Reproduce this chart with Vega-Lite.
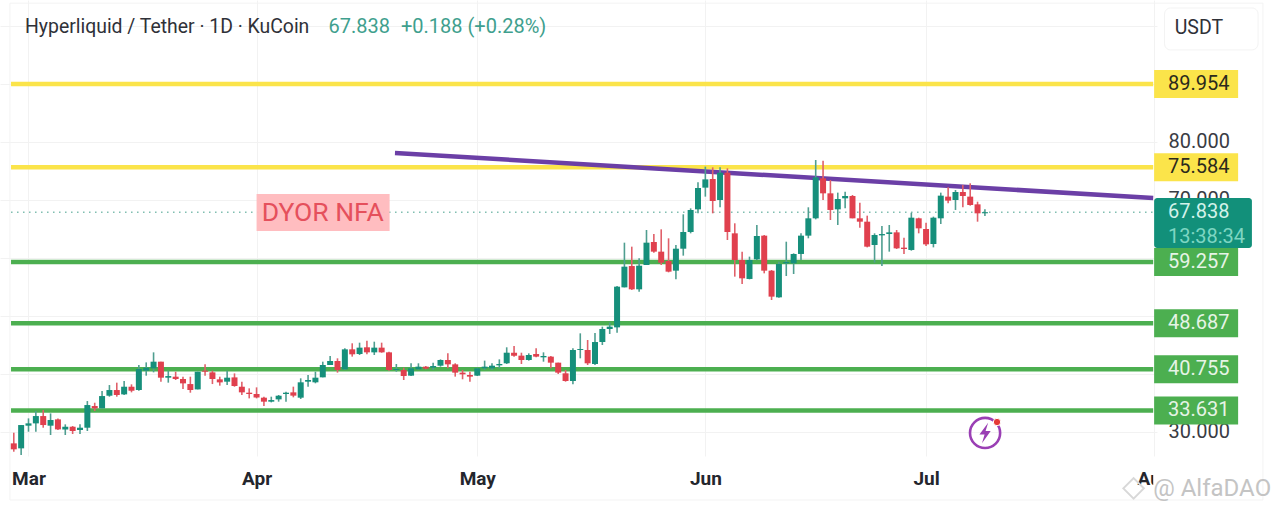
{
  "$schema": "https://vega.github.io/schema/vega-lite/v6.json",
  "width": 1157,
  "height": 456,
  "autosize": "none",
  "padding": {"left": 0, "top": 0, "right": 123, "bottom": 58},
  "background": "white",
  "data": {"values": [{"note": "annotation"}]},
  "datasets": {
    "levels": [
      {"price": 89.954, "kind": "resistance"},
      {"price": 75.584, "kind": "resistance"},
      {"price": 59.257, "kind": "support"},
      {"price": 48.687, "kind": "support"},
      {"price": 40.755, "kind": "support"},
      {"price": 33.631, "kind": "support"}
    ],
    "last": [{"price": 67.838, "countdown": "13:38:34"}],
    "trend": [
      {"date": "2025-04-19T19:30:00Z", "price": 78.05},
      {"date": "2025-07-31T21:00:00Z", "price": 70.28}
    ],
    "candles": [
      {"date":"2025-02-27","o":27.96,"h":29.80,"l":26.52,"c":26.93},
      {"date":"2025-02-28","o":27.10,"h":31.12,"l":25.95,"c":31.12},
      {"date":"2025-03-01","o":31.01,"h":32.27,"l":29.97,"c":31.41},
      {"date":"2025-03-02","o":31.41,"h":33.54,"l":29.97,"c":32.67},
      {"date":"2025-03-03","o":32.67,"h":33.71,"l":30.66,"c":31.12},
      {"date":"2025-03-04","o":31.01,"h":33.13,"l":29.40,"c":31.99},
      {"date":"2025-03-05","o":32.10,"h":32.27,"l":30.26,"c":30.37},
      {"date":"2025-03-06","o":30.37,"h":31.24,"l":29.40,"c":30.83},
      {"date":"2025-03-07","o":30.83,"h":30.95,"l":29.57,"c":30.09},
      {"date":"2025-03-08","o":30.26,"h":31.24,"l":29.57,"c":30.66},
      {"date":"2025-03-09","o":30.66,"h":35.26,"l":30.09,"c":34.57},
      {"date":"2025-03-10","o":34.40,"h":34.97,"l":33.54,"c":34.00},
      {"date":"2025-03-11","o":34.00,"h":36.99,"l":34.00,"c":36.12},
      {"date":"2025-03-12","o":36.18,"h":38.02,"l":36.01,"c":37.16},
      {"date":"2025-03-13","o":37.16,"h":38.43,"l":36.01,"c":36.30},
      {"date":"2025-03-14","o":36.41,"h":38.71,"l":36.30,"c":37.73},
      {"date":"2025-03-15","o":37.73,"h":38.14,"l":36.76,"c":37.04},
      {"date":"2025-03-16","o":37.16,"h":41.47,"l":37.04,"c":40.78},
      {"date":"2025-03-17","o":40.50,"h":41.93,"l":39.63,"c":41.01},
      {"date":"2025-03-18","o":40.90,"h":43.66,"l":40.21,"c":42.05},
      {"date":"2025-03-19","o":42.05,"h":42.05,"l":38.60,"c":39.29},
      {"date":"2025-03-20","o":39.29,"h":40.50,"l":38.43,"c":39.57},
      {"date":"2025-03-21","o":39.46,"h":40.32,"l":38.89,"c":39.06},
      {"date":"2025-03-22","o":39.06,"h":39.46,"l":37.33,"c":38.31},
      {"date":"2025-03-23","o":38.19,"h":39.46,"l":36.70,"c":37.16},
      {"date":"2025-03-24","o":37.27,"h":40.32,"l":37.27,"c":40.32},
      {"date":"2025-03-25","o":40.50,"h":41.59,"l":39.63,"c":40.32},
      {"date":"2025-03-26","o":40.21,"h":40.50,"l":38.19,"c":39.06},
      {"date":"2025-03-27","o":39.00,"h":39.46,"l":37.91,"c":38.48},
      {"date":"2025-03-28","o":38.60,"h":40.50,"l":38.02,"c":39.29},
      {"date":"2025-03-29","o":39.34,"h":40.03,"l":37.73,"c":37.85},
      {"date":"2025-03-30","o":37.73,"h":38.60,"l":36.30,"c":36.76},
      {"date":"2025-03-31","o":36.70,"h":37.45,"l":35.72,"c":36.47},
      {"date":"2025-04-01","o":36.47,"h":37.62,"l":35.72,"c":35.89},
      {"date":"2025-04-02","o":35.84,"h":36.01,"l":34.40,"c":35.15},
      {"date":"2025-04-03","o":35.15,"h":36.01,"l":35.03,"c":35.43},
      {"date":"2025-04-04","o":35.55,"h":36.30,"l":35.15,"c":36.18},
      {"date":"2025-04-05","o":36.47,"h":36.87,"l":35.15,"c":36.70},
      {"date":"2025-04-06","o":36.76,"h":37.74,"l":35.90,"c":36.19},
      {"date":"2025-04-07","o":35.84,"h":39.18,"l":35.61,"c":38.49},
      {"date":"2025-04-08","o":38.60,"h":39.75,"l":37.74,"c":38.89},
      {"date":"2025-04-09","o":38.49,"h":40.33,"l":38.32,"c":39.29},
      {"date":"2025-04-10","o":39.35,"h":42.05,"l":39.35,"c":41.48},
      {"date":"2025-04-11","o":41.48,"h":43.03,"l":41.48,"c":42.17},
      {"date":"2025-04-12","o":42.17,"h":42.63,"l":40.16,"c":40.62},
      {"date":"2025-04-13","o":40.73,"h":44.35,"l":40.62,"c":44.18},
      {"date":"2025-04-14","o":44.18,"h":45.22,"l":42.92,"c":43.32},
      {"date":"2025-04-15","o":43.37,"h":45.33,"l":43.20,"c":44.47},
      {"date":"2025-04-16","o":44.53,"h":45.68,"l":43.32,"c":43.66},
      {"date":"2025-04-17","o":43.66,"h":45.50,"l":43.20,"c":44.47},
      {"date":"2025-04-18","o":44.47,"h":45.33,"l":43.60,"c":43.66},
      {"date":"2025-04-19","o":43.66,"h":43.78,"l":40.50,"c":40.62},
      {"date":"2025-04-20","o":40.62,"h":41.65,"l":40.33,"c":40.79},
      {"date":"2025-04-21","o":40.62,"h":41.02,"l":38.89,"c":39.58},
      {"date":"2025-04-22","o":39.64,"h":41.77,"l":39.58,"c":40.90},
      {"date":"2025-04-23","o":40.73,"h":41.77,"l":40.62,"c":41.19},
      {"date":"2025-04-24","o":41.19,"h":41.30,"l":40.73,"c":40.85},
      {"date":"2025-04-25","o":41.02,"h":41.88,"l":40.62,"c":41.30},
      {"date":"2025-04-26","o":41.36,"h":42.45,"l":41.19,"c":42.34},
      {"date":"2025-04-27","o":42.34,"h":43.49,"l":40.90,"c":41.59},
      {"date":"2025-04-28","o":41.59,"h":41.77,"l":39.47,"c":40.16},
      {"date":"2025-04-29","o":40.16,"h":40.62,"l":39.01,"c":39.87},
      {"date":"2025-04-30","o":39.75,"h":40.33,"l":38.60,"c":39.47},
      {"date":"2025-05-01","o":39.64,"h":41.02,"l":39.58,"c":40.90},
      {"date":"2025-05-02","o":40.90,"h":42.23,"l":40.62,"c":41.19},
      {"date":"2025-05-03","o":40.90,"h":41.77,"l":40.62,"c":41.36},
      {"date":"2025-05-04","o":41.42,"h":42.45,"l":40.90,"c":41.65},
      {"date":"2025-05-05","o":41.77,"h":44.53,"l":41.65,"c":43.60},
      {"date":"2025-05-06","o":43.60,"h":44.76,"l":42.92,"c":43.09},
      {"date":"2025-05-07","o":43.09,"h":43.60,"l":41.65,"c":42.34},
      {"date":"2025-05-08","o":42.34,"h":43.49,"l":42.23,"c":43.20},
      {"date":"2025-05-09","o":43.37,"h":44.35,"l":42.80,"c":42.92},
      {"date":"2025-05-10","o":42.80,"h":43.66,"l":42.05,"c":43.03},
      {"date":"2025-05-11","o":42.92,"h":43.03,"l":40.90,"c":41.88},
      {"date":"2025-05-12","o":41.88,"h":41.88,"l":39.93,"c":40.16},
      {"date":"2025-05-13","o":40.04,"h":40.62,"l":38.60,"c":38.72},
      {"date":"2025-05-14","o":38.72,"h":44.35,"l":38.14,"c":44.07},
      {"date":"2025-05-15","o":44.07,"h":46.94,"l":42.63,"c":44.24},
      {"date":"2025-05-16","o":44.07,"h":45.79,"l":41.48,"c":41.77},
      {"date":"2025-05-17","o":41.65,"h":47.00,"l":41.48,"c":45.44},
      {"date":"2025-05-18","o":45.44,"h":48.09,"l":44.93,"c":47.69},
      {"date":"2025-05-19","o":47.69,"h":48.78,"l":46.83,"c":48.09},
      {"date":"2025-05-20","o":47.97,"h":55.10,"l":47.06,"c":54.99},
      {"date":"2025-05-21","o":54.87,"h":62.58,"l":54.87,"c":58.44},
      {"date":"2025-05-22","o":58.55,"h":61.89,"l":54.42,"c":54.53},
      {"date":"2025-05-23","o":54.53,"h":59.88,"l":54.13,"c":58.61},
      {"date":"2025-05-24","o":58.73,"h":64.77,"l":58.73,"c":62.58},
      {"date":"2025-05-25","o":62.70,"h":64.07,"l":60.86,"c":61.03},
      {"date":"2025-05-26","o":61.03,"h":64.88,"l":58.73,"c":59.13},
      {"date":"2025-05-27","o":59.42,"h":63.33,"l":57.46,"c":57.58},
      {"date":"2025-05-28","o":57.75,"h":62.18,"l":56.25,"c":61.54},
      {"date":"2025-05-29","o":61.54,"h":67.47,"l":60.34,"c":64.42},
      {"date":"2025-05-30","o":64.42,"h":68.50,"l":64.19,"c":68.22},
      {"date":"2025-05-31","o":68.33,"h":72.99,"l":67.64,"c":72.01},
      {"date":"2025-06-01","o":72.07,"h":75.69,"l":70.52,"c":73.50},
      {"date":"2025-06-02","o":73.56,"h":75.57,"l":67.64,"c":69.77},
      {"date":"2025-06-03","o":69.94,"h":75.57,"l":68.67,"c":74.65},
      {"date":"2025-06-04","o":74.65,"h":75.40,"l":63.04,"c":64.42},
      {"date":"2025-06-05","o":64.19,"h":65.92,"l":56.72,"c":59.59},
      {"date":"2025-06-06","o":59.59,"h":61.03,"l":55.45,"c":56.43},
      {"date":"2025-06-07","o":56.32,"h":60.17,"l":56.25,"c":59.59},
      {"date":"2025-06-08","o":59.70,"h":65.63,"l":59.59,"c":63.73},
      {"date":"2025-06-09","o":63.79,"h":63.90,"l":57.29,"c":57.75},
      {"date":"2025-06-10","o":57.75,"h":57.87,"l":52.69,"c":53.27},
      {"date":"2025-06-11","o":53.15,"h":59.30,"l":53.09,"c":58.90},
      {"date":"2025-06-12","o":59.02,"h":62.75,"l":56.83,"c":59.25},
      {"date":"2025-06-13","o":59.02,"h":60.74,"l":57.17,"c":60.63},
      {"date":"2025-06-14","o":60.63,"h":64.19,"l":59.59,"c":63.79},
      {"date":"2025-06-15","o":63.79,"h":68.68,"l":63.33,"c":66.78},
      {"date":"2025-06-16","o":66.78,"h":76.84,"l":66.60,"c":73.85},
      {"date":"2025-06-17","o":73.68,"h":76.72,"l":69.94,"c":71.09},
      {"date":"2025-06-18","o":71.09,"h":73.39,"l":66.49,"c":68.22},
      {"date":"2025-06-19","o":68.33,"h":71.21,"l":65.63,"c":70.11},
      {"date":"2025-06-20","o":70.23,"h":71.38,"l":68.50,"c":70.63},
      {"date":"2025-06-21","o":70.63,"h":70.80,"l":66.78,"c":66.78},
      {"date":"2025-06-22","o":66.78,"h":69.48,"l":65.17,"c":66.20},
      {"date":"2025-06-23","o":66.20,"h":67.24,"l":61.77,"c":61.89},
      {"date":"2025-06-24","o":62.18,"h":64.19,"l":59.13,"c":63.90},
      {"date":"2025-06-25","o":63.84,"h":65.45,"l":58.55,"c":64.07},
      {"date":"2025-06-26","o":64.07,"h":65.63,"l":61.03,"c":64.36},
      {"date":"2025-06-27","o":64.36,"h":64.77,"l":61.49,"c":61.60},
      {"date":"2025-06-28","o":61.72,"h":63.44,"l":60.63,"c":61.49},
      {"date":"2025-06-29","o":61.32,"h":67.75,"l":61.20,"c":66.89},
      {"date":"2025-06-30","o":66.78,"h":66.89,"l":64.19,"c":65.05},
      {"date":"2025-07-01","o":64.94,"h":66.03,"l":62.01,"c":62.29},
      {"date":"2025-07-02","o":62.35,"h":67.07,"l":61.77,"c":66.89},
      {"date":"2025-07-03","o":66.78,"h":71.21,"l":65.80,"c":70.69},
      {"date":"2025-07-04","o":70.52,"h":72.13,"l":69.37,"c":69.83},
      {"date":"2025-07-05","o":69.94,"h":71.67,"l":68.22,"c":71.32},
      {"date":"2025-07-06","o":71.32,"h":72.53,"l":68.67,"c":70.63},
      {"date":"2025-07-07","o":70.52,"h":72.82,"l":68.96,"c":69.08},
      {"date":"2025-07-08","o":69.19,"h":69.65,"l":66.20,"c":67.64},
      {"date":"2025-07-09","o":67.65,"h":68.33,"l":67.18,"c":67.838}
    ]
  },
  "layer": [
    {
      "mark": {"type": "rect", "fill": null, "stroke": "#f3f3f3", "strokeWidth": 1},
      "encoding": {
        "x": {"datum": {"expr": "toDate('2025-02-26T11:30:00Z')"}, "type": "temporal", "scale": {"type": "utc", "domain": [{"expr": "toDate('2025-02-25T03:02:00Z')"}, {"expr": "toDate('2025-08-01T09:22:00Z')"}], "nice": false, "padding": 0}, "axis": {"title": null, "tickCount": "month", "format": "%b", "grid": true, "gridColor": "#f2f2f2", "ticks": false, "domain": false, "labelFont": "Roboto", "labelFontWeight": "bold", "labelFontSize": 19, "labelColor": "#24262d", "labelPadding": 13, "labelOverlap": false, "labelFlush": false}},
        "x2": {"datum": {"expr": "toDate('2025-08-15T19:00:00Z')"}},
        "y": {"datum": 103.9, "type": "quantitative", "scale": {"domain": [25.78, 104.44], "nice": false, "zero": false}, "axis": {"title": null, "orient": "right", "values": [30, 40, 50, 60, 70, 80, 90, 100], "format": ".3f", "labelExpr": "indexof([30, 70, 80], datum.value) >= 0 ? datum.label : ''", "grid": true, "gridColor": "#f2f2f2", "ticks": false, "domain": false, "labelFont": "Roboto", "labelFontSize": 20, "labelColor": "#3a3c44", "labelPadding": 11, "labelOverlap": false, "labelBound": false, "labelFlush": false}},
        "y2": {"datum": 18.19}
      }
    },
    {
      "data": {"name": "levels"},
      "mark": {"type": "rule", "strokeWidth": 4.5},
      "encoding": {
        "x": {"datum": {"expr": "toDate('2025-02-26T15:00:00Z')"}, "type": "temporal", "scale": {"type": "utc"}},
        "x2": {"datum": {"expr": "toDate('2025-07-31T21:00:00Z')"}},
        "y": {"field": "price", "type": "quantitative"},
        "color": {"field": "kind", "type": "nominal", "legend": null, "scale": {"domain": ["resistance", "support"], "range": ["#fbe44a", "#4caf50"]}}
      }
    },
    {
      "data": {"name": "last"},
      "mark": {"type": "rule", "strokeWidth": 1.5, "strokeDash": [1.5, 4.5], "color": "#7fbdb0"},
      "encoding": {
        "x": {"datum": {"expr": "toDate('2025-02-26T15:00:00Z')"}, "type": "temporal", "scale": {"type": "utc"}},
        "x2": {"datum": {"expr": "toDate('2025-07-31T21:00:00Z')"}},
        "y": {"field": "price", "type": "quantitative"}
      }
    },
    {
      "data": {"name": "trend"},
      "mark": {"type": "line", "strokeWidth": 4.5, "color": "#6b3fa6"},
      "encoding": {
        "x": {"field": "date", "type": "temporal", "scale": {"type": "utc"}},
        "y": {"field": "price", "type": "quantitative"}
      }
    },
    {
      "data": {"name": "candles"},
      "mark": {"type": "rule", "strokeWidth": 1.6},
      "encoding": {
        "x": {"field": "date", "type": "temporal", "scale": {"type": "utc"}},
        "y": {"field": "l", "type": "quantitative"},
        "y2": {"field": "h"},
        "color": {"condition": {"test": "datum.c >= datum.o", "value": "#4f9e90"}, "value": "#e0606a"}
      }
    },
    {
      "data": {"name": "candles"},
      "mark": {"type": "bar", "size": 6},
      "encoding": {
        "x": {"field": "date", "type": "temporal", "scale": {"type": "utc"}},
        "y": {"field": "o", "type": "quantitative"},
        "y2": {"field": "c"},
        "color": {"condition": {"test": "datum.c >= datum.o", "value": "#168f7b"}, "value": "#e0404e"}
      }
    },
    {
      "mark": {"type": "rect", "fill": "#ffb9bd", "opacity": 0.95},
      "encoding": {
        "x": {"datum": {"expr": "toDate('2025-04-01T00:00:00Z')"}, "type": "temporal", "scale": {"type": "utc"}},
        "x2": {"datum": {"expr": "toDate('2025-04-19T02:00:00Z')"}},
        "y": {"datum": 70.97, "type": "quantitative"},
        "y2": {"datum": 64.59}
      }
    },
    {
      "mark": {"type": "text", "text": "DYOR NFA", "font": "Roboto", "fontSize": 26.5, "color": "#e5505c", "align": "center", "baseline": "middle"},
      "encoding": {
        "x": {"datum": {"expr": "toDate('2025-04-10T00:00:00Z')"}, "type": "temporal", "scale": {"type": "utc"}},
        "y": {"datum": 67.7, "type": "quantitative"}
      }
    },
    {
      "mark": {"type": "rect", "fill": "white", "stroke": "#f3f3f3", "cornerRadius": 6},
      "encoding": {
        "x": {"datum": {"expr": "toDate('2025-08-02T10:00:00Z')"}, "type": "temporal", "scale": {"type": "utc"}},
        "x2": {"datum": {"expr": "toDate('2025-08-15T03:00:00Z')"}},
        "y": {"datum": 103.06, "type": "quantitative"},
        "y2": {"datum": 95.83}
      }
    },
    {
      "mark": {"type": "text", "text": "USDT", "font": "Roboto", "fontSize": 19.5, "color": "#2f3138", "align": "center", "baseline": "middle"},
      "encoding": {
        "x": {"datum": {"expr": "toDate('2025-08-07T02:00:00Z')"}, "type": "temporal", "scale": {"type": "utc"}},
        "y": {"datum": 99.61, "type": "quantitative"}
      }
    },
    {
      "mark": {"type": "text", "text": "Hyperliquid / Tether · 1D · KuCoin", "font": "Roboto", "fontSize": 19.4, "color": "#2f3138", "align": "left", "baseline": "middle"},
      "encoding": {
        "x": {"datum": {"expr": "toDate('2025-02-28T12:36:00Z')"}, "type": "temporal", "scale": {"type": "utc"}},
        "y": {"datum": 99.78, "type": "quantitative"}
      }
    },
    {
      "mark": {"type": "text", "text": "67.838", "font": "Roboto", "fontSize": 20, "color": "#3f9f8e", "align": "left", "baseline": "middle"},
      "encoding": {
        "x": {"datum": {"expr": "toDate('2025-04-10T18:30:00Z')"}, "type": "temporal", "scale": {"type": "utc"}},
        "y": {"datum": 99.78, "type": "quantitative"}
      }
    },
    {
      "mark": {"type": "text", "text": "+0.188 (+0.28%)", "font": "Roboto", "fontSize": 20, "color": "#3f9f8e", "align": "left", "baseline": "middle"},
      "encoding": {
        "x": {"datum": {"expr": "toDate('2025-04-20T15:00:00Z')"}, "type": "temporal", "scale": {"type": "utc"}},
        "y": {"datum": 99.78, "type": "quantitative"}
      }
    },
    {
      "data": {"name": "levels"},
      "mark": {"type": "rule", "strokeWidth": 28},
      "encoding": {
        "x": {"datum": {"expr": "toDate('2025-08-01T00:00:00Z')"}, "type": "temporal", "scale": {"type": "utc"}},
        "x2": {"datum": {"expr": "toDate('2025-08-12T10:00:00Z')"}},
        "y": {"field": "price", "type": "quantitative"},
        "color": {"field": "kind", "type": "nominal", "legend": null, "scale": {"domain": ["resistance", "support"], "range": ["#fbe44a", "#4caf50"]}}
      }
    },
    {
      "data": {"name": "levels"},
      "mark": {"type": "text", "font": "Roboto", "fontSize": 20, "align": "left", "baseline": "middle"},
      "encoding": {
        "x": {"datum": {"expr": "toDate('2025-08-02T21:00:00Z')"}, "type": "temporal", "scale": {"type": "utc"}},
        "y": {"field": "price", "type": "quantitative"},
        "text": {"field": "price", "type": "quantitative", "format": ".3f"},
        "color": {"condition": {"test": "datum.kind == 'resistance'", "value": "#2b2a1c"}, "value": "#e6f4e6"}
      }
    },
    {
      "mark": {"type": "rect", "fill": "#12907a", "cornerRadius": 3},
      "encoding": {
        "x": {"datum": {"expr": "toDate('2025-08-01T00:00:00Z')"}, "type": "temporal", "scale": {"type": "utc"}},
        "x2": {"datum": {"expr": "toDate('2025-08-14T07:00:00Z')"}},
        "y": {"datum": 70.28, "type": "quantitative"},
        "y2": {"datum": 61.66}
      }
    },
    {
      "data": {"name": "last"},
      "mark": {"type": "text", "font": "Roboto", "fontSize": 20, "align": "left", "baseline": "middle", "color": "#d3f2ea"},
      "encoding": {
        "x": {"datum": {"expr": "toDate('2025-08-02T21:00:00Z')"}, "type": "temporal", "scale": {"type": "utc"}},
        "y": {"field": "price", "type": "quantitative"},
        "text": {"field": "price", "type": "quantitative", "format": ".3f"}
      }
    },
    {
      "data": {"name": "last"},
      "mark": {"type": "text", "font": "Roboto", "fontSize": 20, "align": "left", "baseline": "middle", "color": "#7ed6c2", "dy": 25},
      "encoding": {
        "x": {"datum": {"expr": "toDate('2025-08-02T21:00:00Z')"}, "type": "temporal", "scale": {"type": "utc"}},
        "y": {"field": "price", "type": "quantitative"},
        "text": {"field": "countdown", "type": "nominal"}
      }
    },
    {
      "mark": {"type": "point", "shape": "circle", "size": 908, "filled": false, "stroke": "#9a3fb4", "strokeWidth": 2.6, "opacity": 1},
      "encoding": {
        "x": {"datum": {"expr": "toDate('2025-07-09T00:30:00Z')"}, "type": "temporal", "scale": {"type": "utc"}},
        "y": {"datum": 29.75, "type": "quantitative"}
      }
    },
    {
      "mark": {"type": "point", "shape": "M 0.3 -1 L -0.55 0.15 L -0.05 0.15 L -0.3 1 L 0.55 -0.2 L 0.05 -0.2 Z", "size": 420, "filled": true, "fill": "#9a3fb4", "opacity": 1},
      "encoding": {
        "x": {"datum": {"expr": "toDate('2025-07-09T00:30:00Z')"}, "type": "temporal", "scale": {"type": "utc"}},
        "y": {"datum": 29.75, "type": "quantitative"}
      }
    },
    {
      "mark": {"type": "point", "shape": "circle", "size": 55, "filled": true, "fill": "#e53935", "stroke": "white", "strokeWidth": 1, "opacity": 1},
      "encoding": {
        "x": {"datum": {"expr": "toDate('2025-07-10T15:30:00Z')"}, "type": "temporal", "scale": {"type": "utc"}},
        "y": {"datum": 31.64, "type": "quantitative"}
      }
    },
    {
      "mark": {"type": "rect", "fill": "white"},
      "encoding": {
        "x": {"datum": {"expr": "toDate('2025-07-31T21:00:00Z')"}, "type": "temporal", "scale": {"type": "utc"}},
        "x2": {"datum": {"expr": "toDate('2025-08-08T00:00:00Z')"}},
        "y": {"datum": 25.6, "type": "quantitative"},
        "y2": {"datum": 18.5}
      }
    },
    {
      "mark": {"type": "point", "shape": "diamond", "size": 420, "filled": false, "stroke": "#d8d8d8", "strokeWidth": 2, "opacity": 1},
      "encoding": {
        "x": {"datum": {"expr": "toDate('2025-07-29T05:00:00Z')"}, "type": "temporal", "scale": {"type": "utc"}},
        "y": {"datum": 20.2, "type": "quantitative"}
      }
    },
    {
      "mark": {"type": "text", "text": "@ AlfaDAO", "font": "Roboto", "fontSize": 24, "color": "#c4c4c4", "align": "left", "baseline": "middle"},
      "encoding": {
        "x": {"datum": {"expr": "toDate('2025-07-31T21:00:00Z')"}, "type": "temporal", "scale": {"type": "utc"}},
        "y": {"datum": 20.1, "type": "quantitative"}
      }
    }
  ],
  "config": {"view": {"stroke": null}}
}
